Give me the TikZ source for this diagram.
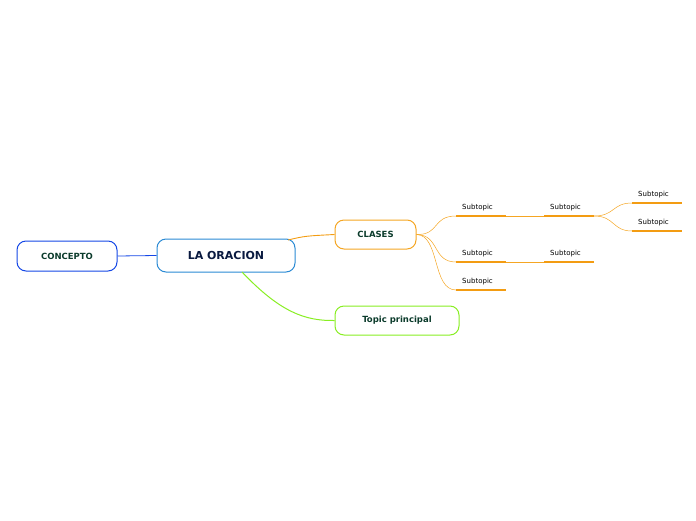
\documentclass[tikz,border=0pt]{standalone}
\usepackage{fontspec}
\setmainfont{DejaVu Sans}
\definecolor{orng}{HTML}{F5A623}
\definecolor{orngd}{HTML}{F39C12}
\definecolor{blu}{HTML}{1447E6}
\definecolor{lblu}{HTML}{2A8AD4}
\definecolor{lime}{HTML}{88EE22}
\definecolor{dgreen}{HTML}{0B3B2B}
\definecolor{navy}{HTML}{0A1A40}
\begin{document}
\begin{tikzpicture}[x=1pt,y=-1pt,
  box/.style={draw,rounded corners=9pt,line width=1pt,fill=white,font=\bfseries\fontsize{8.5}{10}\selectfont,text=dgreen,inner sep=0pt},
  sub/.style={font=\fontsize{7}{8}\selectfont,text=black,inner sep=0pt},
  sline/.style={orngd,line width=1.3pt},
  conn/.style={orng,line width=0.5pt}]
\useasboundingbox (0,0) rectangle (696,520);
\node[box,draw=blu,minimum width=100pt,minimum height=30pt] (concepto) at (67,256) {CONCEPTO};
\node[box,draw=lblu,minimum width=138pt,minimum height=33pt,text=navy,font=\bfseries\fontsize{11}{13}\selectfont] (oracion) at (226,255.5) {LA ORACION};
\node[box,draw=orng,minimum width=81pt,minimum height=29pt] (clases) at (375.5,234.5) {CLASES};
\node[box,draw=lime,minimum width=124pt,minimum height=29pt] (topic) at (397,320.5) {Topic principal};
% subtopics
\foreach \n/\x/\y in {a/456/216,b/544/216,c/632/203,d/632/231,e/456/262,f/544/262,g/456/290}{
  \coordinate (\n l) at (\x,\y);
  \coordinate (\n r) at (\x+50,\y);
  \node[sub,anchor=south west] (\n t) at (\x+6,\y-5) {Subtopic};
  \draw[sline] (\n l) -- (\n r);
}
\draw[blu,line width=0.8pt] (concepto.east) -- (oracion.west);
\coordinate (o1) at (288,240);
\draw[orngd,line width=0.9pt] (o1) .. controls (305,236) .. (clases.west);
\coordinate (o2) at (242,272);
\draw[lime,line width=1pt] (o2) .. controls (280,312) and (305,321) .. (topic.west);
\foreach \n/\y in {a/216,e/262,g/290}{
  \draw[conn] (clases.east) .. controls (440,235) and (432,\y) .. (\n l);
}
\draw[conn] (ar) -- (bl);
\draw[conn] (er) -- (fl);
\draw[conn] (br) .. controls (615,216) and (612,203) .. (cl);
\draw[conn] (br) .. controls (615,216) and (612,231) .. (dl);
\end{tikzpicture}
\end{document}
